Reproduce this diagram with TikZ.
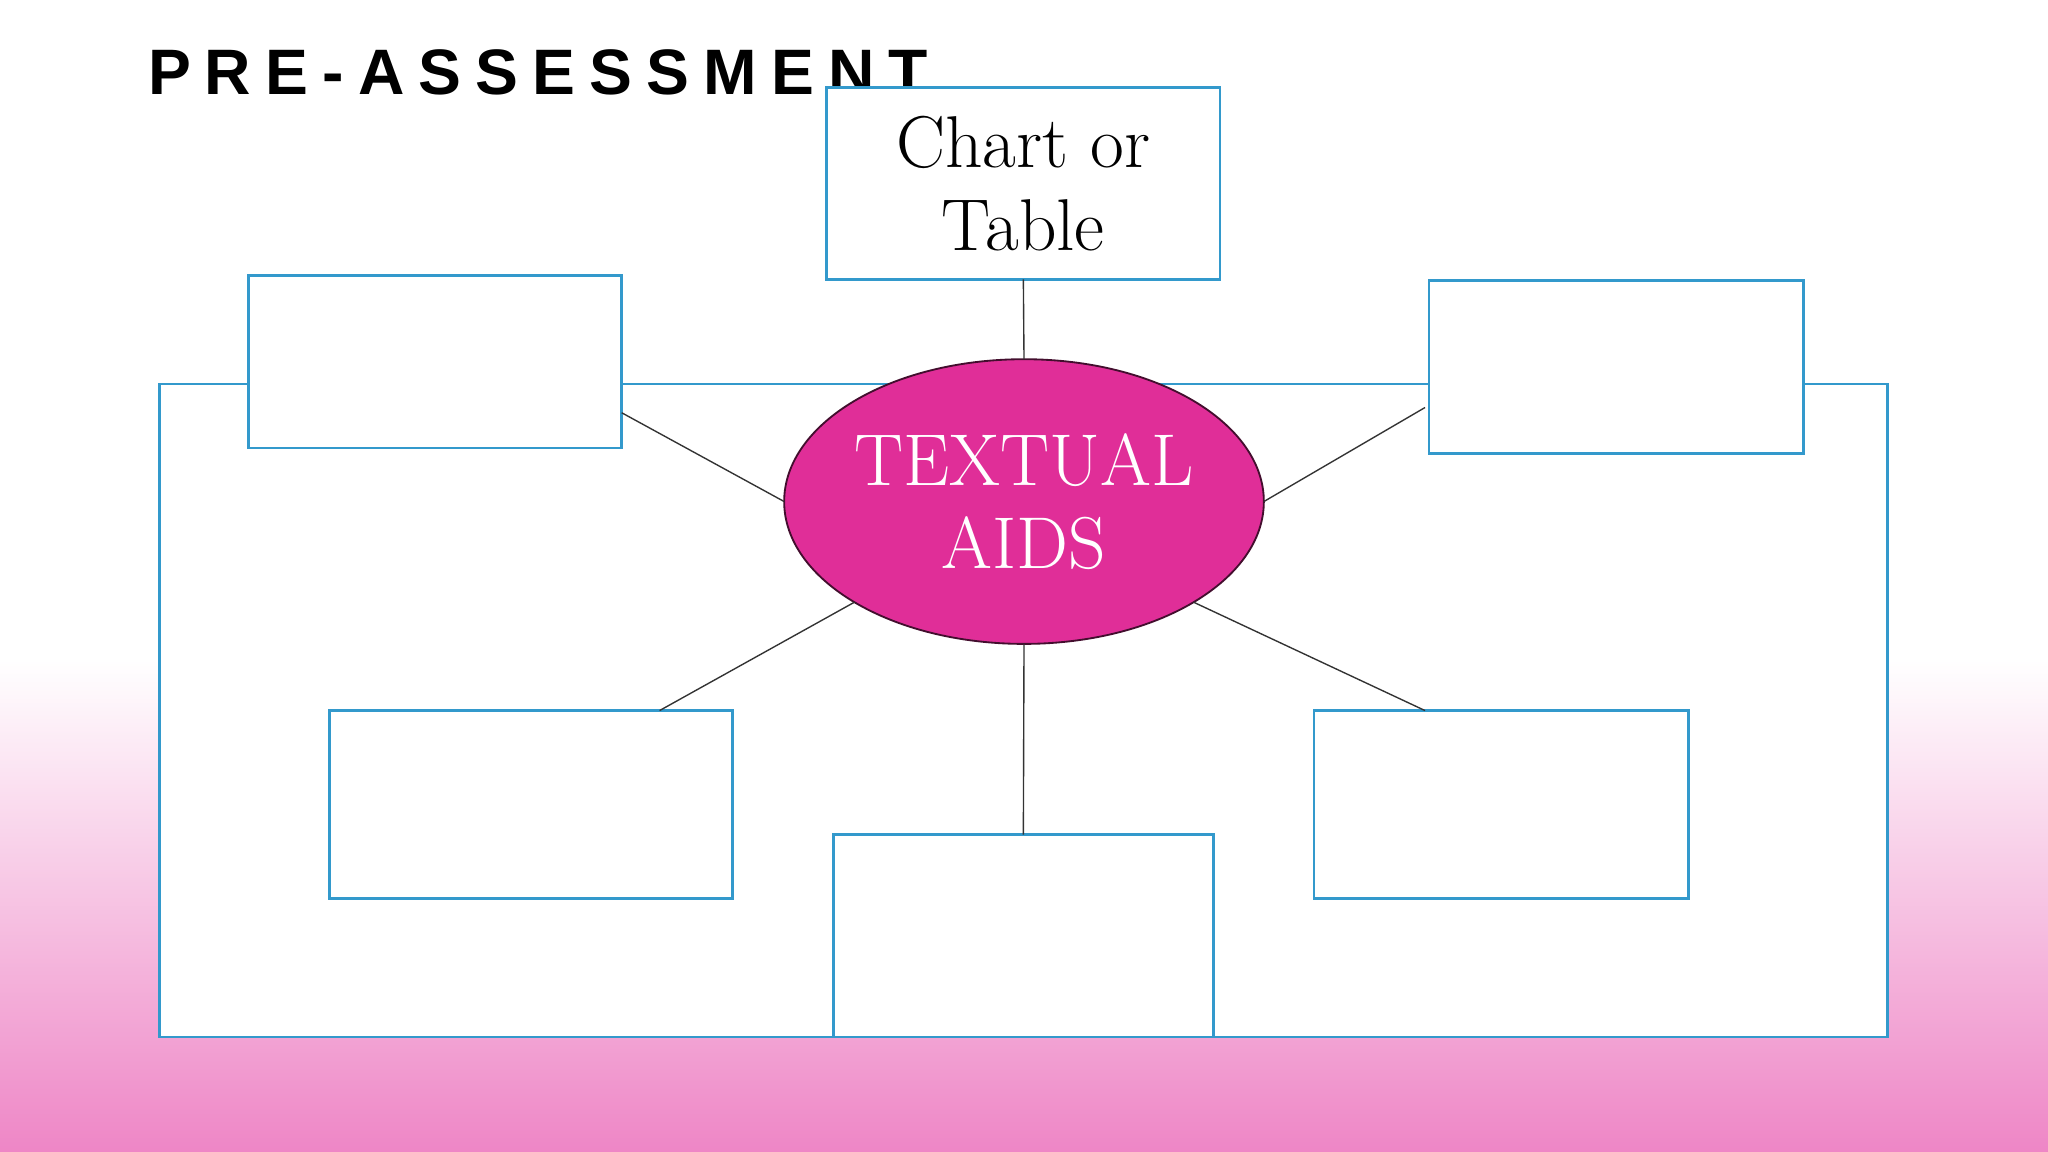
\documentclass[tikz,border=0pt]{standalone}
\usepackage{fontspec}
\newfontfamily\titlefont[LetterSpace=22]{Liberation Sans}
\usetikzlibrary{shapes.geometric,calc}
\definecolor{bblue}{HTML}{3399CC}
\definecolor{epink}{HTML}{E02E98}
\definecolor{bgpink}{HTML}{EE86C6}
\tikzset{
  box/.style={draw=bblue, line width=1.2pt, fill=white, inner sep=0pt, outer sep=0pt},
  link/.style={draw=black!80, line width=0.6pt},
  serif/.style={font=\fontsize{32}{40}\selectfont, align=center}
}
\begin{document}
\begin{tikzpicture}[x=0.02cm,y=-0.02cm]
\useasboundingbox (0,0) rectangle (1568,882);
\fill[white] (0,0) rectangle (1568,882);
\shade[top color=white, bottom color=bgpink] (0,505) rectangle (1568,882);
% big frame
\draw[box] (122,294) rectangle (1445,794);
% title
\node[anchor=base west, inner sep=0pt, font=\titlefont\bfseries\fontsize{28}{30}\selectfont] (title) at (113,72) {PRE-ASSESSMENT};
% boxes
\node[box, minimum width=6.02cm, minimum height=2.94cm, serif] (top) at (783.5,140.5) {Chart or\\[-4pt]Table};
\node[box, minimum width=5.72cm, minimum height=2.64cm] (tl) at (333,277) {};
\node[box, minimum width=5.74cm, minimum height=2.64cm] (tr) at (1237.5,281) {};
\node[box, minimum width=6.18cm, minimum height=2.88cm] (bl) at (406.5,616) {};
\node[box, minimum width=5.74cm, minimum height=2.88cm] (br) at (1149.5,616) {};
\node[box, minimum width=5.82cm, minimum height=3.10cm] (bc) at (783.5,716.5) {};
% ellipse
\node[ellipse, draw=black!70!epink, fill=epink, line width=0.8pt, minimum width=7.32cm, minimum height=4.36cm, inner sep=0pt, outer sep=0pt, text=white, serif] (e) at (784,384) {TEXTUAL\\[-4pt]AIDS};
% links
\draw[link] (top.south) -- (e.north);
\draw[link] ($(tl.east)+(0,39)$) -- (e.west);
\draw[link] ($(tr.west)+(-3,31)$) -- (e.east);
\draw[link] (e.south west) -- ($(bl.north)+(98.5,0)$);
\draw[link] (e.south east) -- ($(br.north)+(-58.5,0)$);
\draw[link] (e.south) -- (bc.north);
\end{tikzpicture}
\end{document}
